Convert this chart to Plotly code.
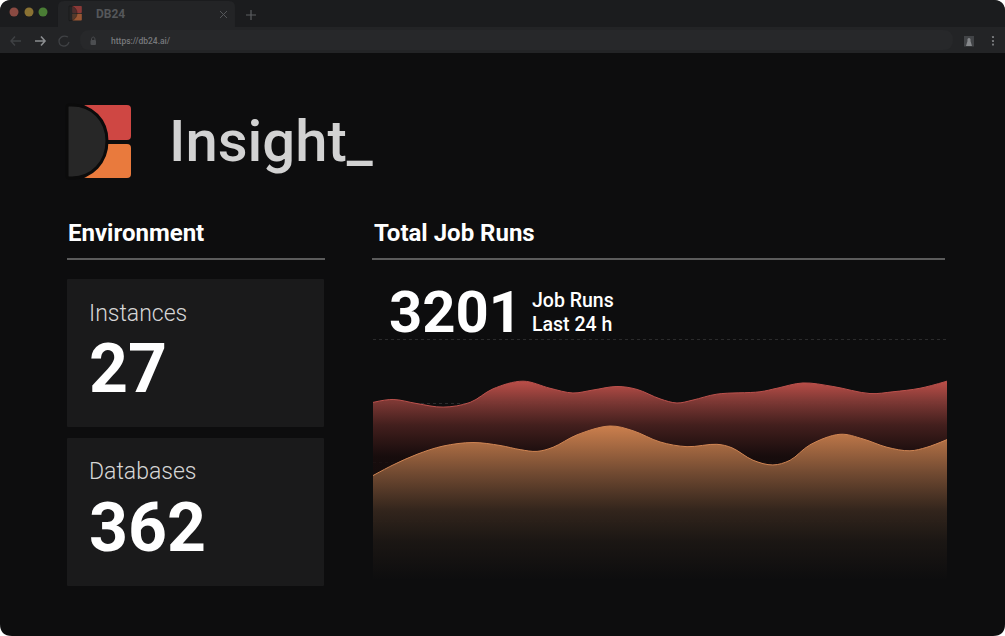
import plotly.graph_objects as go

W = 1005
H = 636

# chart data, hours over the last 24 h
red_hours = [0, 0.84, 1.84, 2.93, 4.06, 5.02, 6.27, 7.40, 8.36, 9.20, 10.20, 11.04, 12.0,
             12.71, 13.38, 14.38, 16.18, 16.89, 17.98, 19.23, 20.78, 21.74, 22.87, 24]
red_runs = [301, 306, 299, 293, 301, 324, 337, 325, 317, 322, 328, 323, 307,
            300, 305, 315, 319, 325, 334, 328, 316, 319, 325, 337]
orange_hours = [0, 0.84, 1.84, 2.93, 4.18, 5.31, 6.15, 6.86, 7.53, 8.53, 9.91, 10.87, 12.0,
                13.13, 14.38, 15.01, 15.89, 16.72, 17.44, 18.27, 19.53, 20.49, 21.49, 22.45, 23.16, 24]
orange_runs = [177, 195, 213, 227, 233, 228, 221, 218, 225, 246, 261, 253, 234,
               226, 230, 224, 203, 195, 203, 229, 247, 239, 225, 219, 225, 238]
grid_values = [0, 100, 200, 300, 407, 500]

# texts
page_title = "Insight_"
left_header = "Environment"
right_header = "Total Job Runs"
card_labels = ["Instances", "Databases"]
card_values = ["27", "362"]
total_runs = "3201"
total_caption = ["Job Runs", "Last 24 h"]
tab_title = "DB24"
url = "https://db24.ai/"


def px(x):
    return x / W


def py(y):
    return 1 - y / H


def to_path(cmds):
    # cmds is a list of (letter, x, y, x, y ...) in screen pixels
    out = []
    for c in cmds:
        nums = c[1:]
        pts = []
        for i in range(0, len(nums), 2):
            pts.append("%.5f,%.5f" % (px(nums[i]), py(nums[i + 1])))
        out.append(c[0] + " ".join(pts))
    return " ".join(out)


def rrect(x0, y0, x1, y1, r=0, r2=None):
    # r for the top corners, r2 for the bottom ones
    if r2 is None:
        r2 = r
    return to_path([
        ("M", x0 + r, y0), ("L", x1 - r, y0), ("Q", x1, y0, x1, y0 + r),
        ("L", x1, y1 - r2), ("Q", x1, y1, x1 - r2, y1),
        ("L", x0 + r2, y1), ("Q", x0, y1, x0, y1 - r2),
        ("L", x0, y0 + r), ("Q", x0, y0, x0 + r, y0),
    ]) + " Z"


shapes = []
annotations = []


def add_path(path, fill=None, line=None, width=0, opacity=1, layer="below"):
    shapes.append(dict(type="path", xref="paper", yref="paper", path=path, layer=layer,
                       fillcolor=fill or "rgba(0,0,0,0)", opacity=opacity,
                       line=dict(color=line or "rgba(0,0,0,0)", width=width)))


def add_text(x, y, text, size, color, weight=400, anchor="left"):
    annotations.append(dict(x=px(x), y=py(y), xref="paper", yref="paper", text=text,
                            showarrow=False, xanchor=anchor, yanchor="middle",
                            xshift=0, borderpad=0,
                            font=dict(family="Roboto", size=size, color=color, weight=weight)))


def add_logo(x, y, s, opacity=1):
    add_path(rrect(x + 16 * s, y, x + 64 * s, y + 35 * s, 4 * s, 4 * s), "#cf4743", opacity=opacity)
    add_path(rrect(x + 16 * s, y + 39 * s, x + 64 * s, y + 73 * s, 4 * s, 4 * s), "#e97a3d", opacity=opacity)
    d = to_path([
        ("M", x, y + 2 * s), ("Q", x, y, x + 2 * s, y), ("L", x + 5 * s, y),
        ("C", x + 25 * s, y, x + 40 * s, y + 15 * s, x + 40 * s, y + 36 * s),
        ("C", x + 40 * s, y + 57 * s, x + 25 * s, y + 73 * s, x + 5 * s, y + 73 * s),
        ("L", x + 2 * s, y + 73 * s), ("Q", x, y + 73 * s, x, y + 71 * s),
    ]) + " Z"
    add_path(d, "#272727", "#0b0b0b", 3 * s, opacity=opacity)


# window
add_path(rrect(0, 0, W, H, 12), "#0d0d0e")
add_path(rrect(0, 0, W, 27, 12, 0), "#1b1c1e")
add_path(rrect(0, 27, W, 53, 0), "#232426")
add_path(rrect(58, 1, 235, 27, 6, 0), "#232426")
add_path(rrect(80, 30, 953, 50, 10), "#27282a")

for cx, col in zip([14, 29, 43], ["#8a4a42", "#8a7233", "#4a7d35"]):
    shapes.append(dict(type="circle", xref="paper", yref="paper", layer="below",
                       x0=px(cx - 4.5), x1=px(cx + 4.5), y0=py(12 + 4.5), y1=py(12 - 4.5),
                       fillcolor=col, line=dict(width=0)))

add_logo(69, 6, 0.2, opacity=0.6)
add_text(95, 14, tab_title, 12, "#55575a", 700)
add_path(to_path([("M", 220, 11), ("L", 227, 18), ("M", 227, 11), ("L", 220, 18)]), None, "#55575a", 1)
add_path(to_path([("M", 251, 10), ("L", 251, 20), ("M", 246, 15), ("L", 256, 15)]), None, "#5c5e61", 1.2)

# toolbar icons
add_path(to_path([("M", 21, 41), ("L", 11, 41), ("M", 15, 36.5), ("L", 11, 41), ("L", 15, 45.5)]), None, "#3f4144", 1.4)
add_path(to_path([("M", 35, 41), ("L", 45, 41), ("M", 41, 36.5), ("L", 45, 41), ("L", 41, 45.5)]), None, "#8b8d90", 1.6)
add_path(to_path([("M", 68, 37), ("C", 62, 34, 59, 39, 59, 41), ("C", 59, 47, 67, 48, 69, 42)]), None, "#3f4144", 1.3)
add_path(rrect(90.5, 40, 96, 45, 1), "#4c4e51")
add_path(to_path([("M", 91.5, 40), ("C", 91.5, 36, 95, 36, 95, 40)]), None, "#4c4e51", 1)
add_text(110, 41, url, 8.5, "#77797c", 500)
add_path(rrect(964, 36, 974, 46.5, 0), "#424447")
add_path(to_path([("M", 966, 46), ("L", 972, 46), ("L", 970.5, 41), ("C", 971.5, 37, 966.5, 37, 967.5, 41), ("Z",)]), "#86888b")
for dy in [37, 41, 44.5]:
    add_path(rrect(992, dy - 1, 994, dy + 1, 0.5), "#77797c")

# page header
add_logo(67, 105, 1)
add_text(168, 141, page_title, 58, "#d2d2d2", 500)

# section headers
add_text(67, 233, left_header, 24, "#ffffff", 700)
add_text(373, 233, right_header, 24, "#ffffff", 700)
add_path(to_path([("M", 67, 259), ("L", 325, 259)]), None, "#767676", 1.5)
add_path(to_path([("M", 372, 259), ("L", 945, 259)]), None, "#767676", 1.5)

# cards
card_tops = [279, 438]
for top, label, value in zip(card_tops, card_labels, card_values):
    add_path(rrect(67, top, 324, top + 148, 1), "#1a1a1b")
    add_text(88, top + 34, label, 23, "#d6d6d6", 300)
    add_text(88, top + 90, value, 68, "#ffffff", 700)

add_text(388, 312, total_runs, 58, "#ffffff", 700)
add_text(531, 300, total_caption[0], 19.5, "#ffffff", 500)
add_text(531, 324, total_caption[1], 19.5, "#ffffff", 500)

fig = go.Figure()
fig.add_trace(go.Scatter(
    x=red_hours, y=red_runs, mode="lines", showlegend=False, hoverinfo="skip",
    line=dict(color="#bb514c", width=1, shape="spline"),
    fill="tozeroy",
    fillgradient=dict(type="vertical", start=0, stop=337, colorscale=[
        [0, "rgba(13,13,14,0)"], [0.62, "rgba(24,12,12,0.9)"],
        [0.78, "rgba(70,32,30,0.95)"], [0.9, "rgba(130,58,54,0.97)"], [1, "rgba(188,78,72,1)"]]),
))
fig.add_trace(go.Scatter(
    x=orange_hours, y=orange_runs, mode="lines", showlegend=False, hoverinfo="skip",
    line=dict(color="#d08553", width=1, shape="spline"),
    fill="tozeroy",
    fillgradient=dict(type="vertical", start=0, stop=261, colorscale=[
        [0, "rgba(13,13,14,0.9)"], [0.25, "rgba(28,23,20,0.92)"], [0.45, "rgba(52,38,29,0.95)"],
        [0.7, "rgba(115,75,50,1)"], [1, "rgba(203,127,77,1)"]]),
))

fig.update_layout(
    width=W, height=H, margin=dict(l=0, r=0, t=0, b=0),
    paper_bgcolor="#ffffff", plot_bgcolor="rgba(0,0,0,0)",
    shapes=shapes, annotations=annotations,
    xaxis=dict(domain=[px(373), px(947)], range=[0, 24], visible=False, fixedrange=True),
    yaxis=dict(domain=[py(580), py(285)], range=[0, 500], tickvals=grid_values, showticklabels=False,
               showgrid=True, gridcolor="#2b2b2c", griddash="dot", gridwidth=1,
               zeroline=False, showline=False, ticks="", fixedrange=True),
)

fig.write_html("out.html", config=dict(displayModeBar=False),
               post_script="document.body.style.margin='0';")
